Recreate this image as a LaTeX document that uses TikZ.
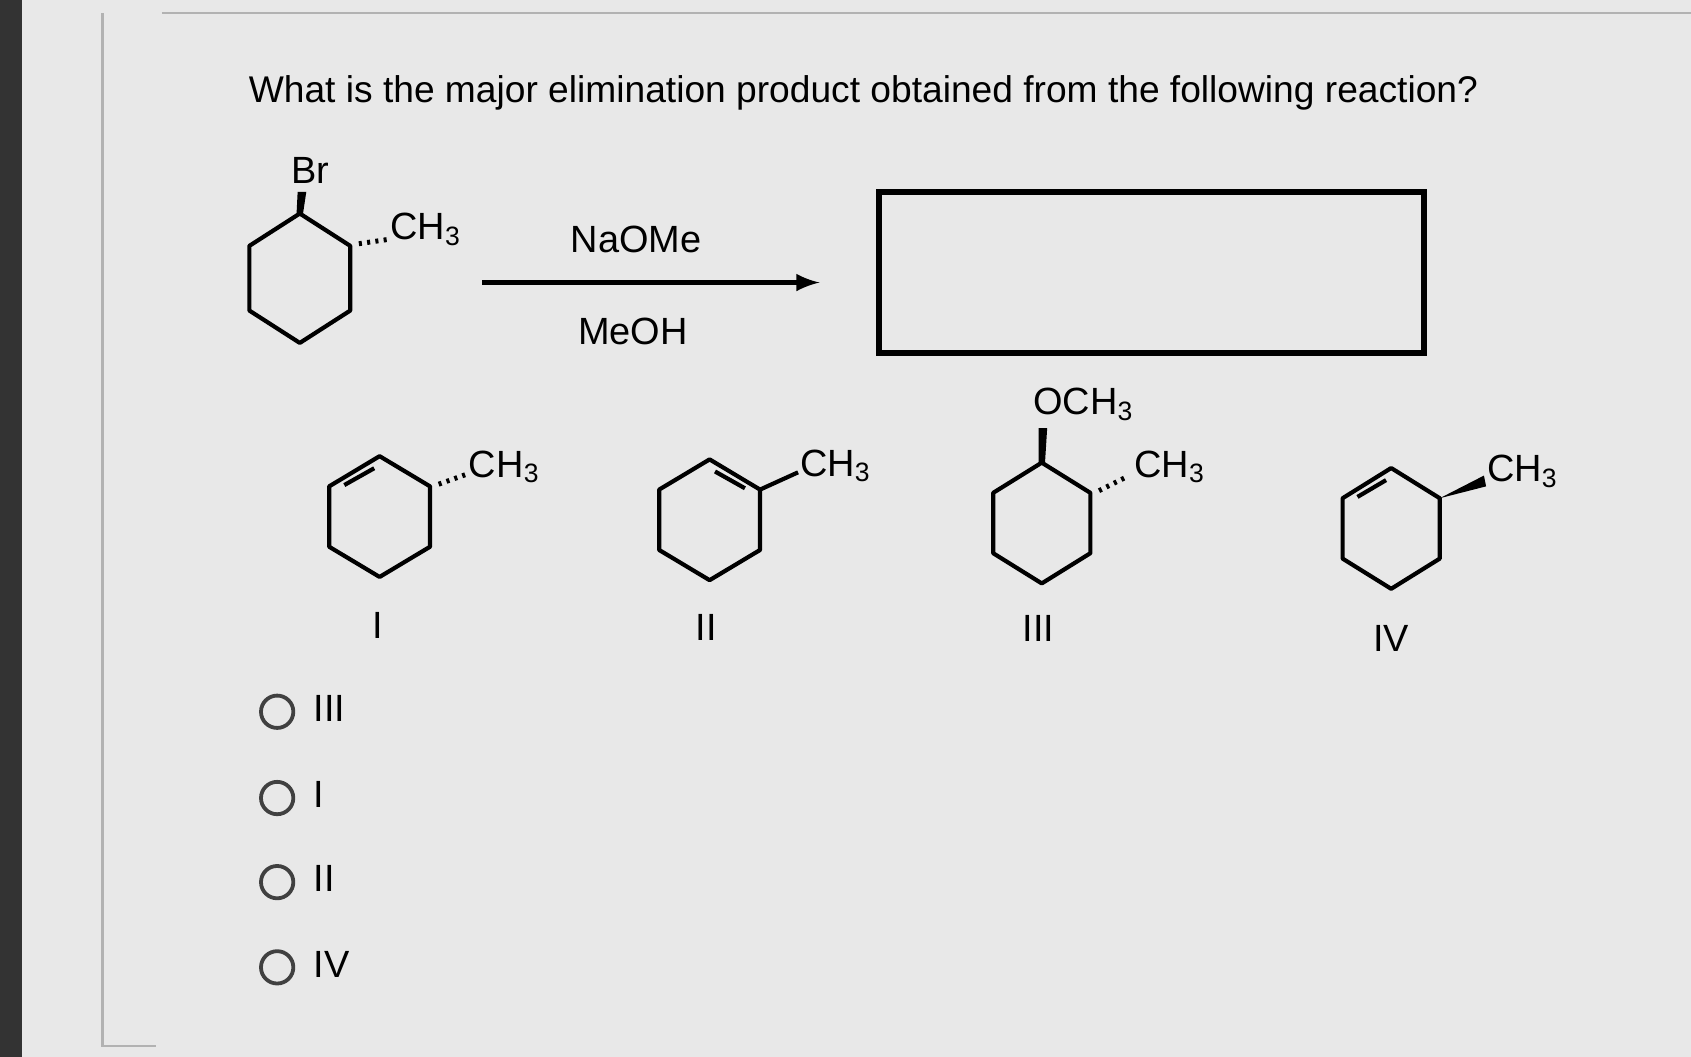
\documentclass[tikz,border=0pt]{standalone}
\usepackage{fontspec}
\setmainfont{Liberation Sans}
\usetikzlibrary{calc}
\begin{document}
\begin{tikzpicture}[x=0.01cm,y=-0.01cm,
  bond/.style={line width=1.1pt,line join=round},
  lbl/.style={font=\fontsize{10}{11}\selectfont,inner sep=0pt},
  hash/.style={line width=1.3pt,dash pattern=on 0.8pt off 1.4pt},
  wedge/.style={fill=black}]
\useasboundingbox (0,0) rectangle (1568,980);
\fill[gray!18] (0,0) rectangle (1568,980);
\fill[black!80] (0,0) rectangle (20,980);
\draw[gray!60,line width=0.6pt] (150,12) -- (1568,12);
\draw[gray!60,line width=0.6pt] (95,12) -- (95,970) -- (145,970);
\node[lbl,anchor=west,font=\fontsize{9.8}{11}\selectfont] (q) at (230,86) {What is the major elimination product obtained from the following reaction?};
% starting material
\foreach \i/\a in {1/90,2/30,3/-30,4/-90,5/-150,6/150}
  \coordinate (s\i) at ($(278,258)+(\a:54 and -60)$);
\draw[bond] (s1)--(s2)--(s3)--(s4)--(s5)--(s6)--cycle;
\node[lbl] (br) at (288,158) {Br};
\fill[wedge] ($(s1)+(-3,0)$) -- ($(s1)+(3,0)$) -- (284,178) -- (276,178) -- cycle;
\node[lbl] (sch) at (395,213) {CH\textsubscript{3}};
\draw[hash] ($(s2)+(8,-2)$) -- (360,222);
% arrow
\node[lbl] (na) at (590,222) {NaOMe};
\node[lbl] (me) at (587,307) {MeOH};
\coordinate (a1) at (447,262); \coordinate (a2) at (760,262);
\draw[line width=1.1pt,-latex] (a1) -- (a2);
\draw[line width=1.6pt] (815,178) rectangle (1320,327);
% I
\foreach \i/\a in {1/90,2/30,3/-30,4/-90,5/-150,6/150}
  \coordinate (p\i) at ($(352,479)+(\a:54 and -56)$);
\draw[bond] (p1)--(p2)--(p3)--(p4)--(p5)--(p6)--cycle;
\draw[bond] ($(p1)!0.15!(p6)+(2,7)$) -- ($(p6)!0.15!(p1)+(7,3)$);
\draw[hash] ($(p2)+(8,-2)$) -- (432,440);
\node[lbl] (c1) at (468,433) {CH\textsubscript{3}};
\node[lbl] (n1) at (350,580) {I};
% II
\foreach \i/\a in {1/90,2/30,3/-30,4/-90,5/-150,6/150}
  \coordinate (q\i) at ($(658,482)+(\a:54 and -56)$);
\draw[bond] (q1)--(q2)--(q3)--(q4)--(q5)--(q6)--cycle;
\draw[bond] ($(q1)!0.15!(q2)+(-2,7)$) -- ($(q2)!0.15!(q1)+(-7,3)$);
\draw[bond] (q2) -- (740,438);
\node[lbl] (c2) at (775,432) {CH\textsubscript{3}};
\node[lbl] (n2) at (655,582) {II};
% III
\foreach \i/\a in {1/90,2/30,3/-30,4/-90,5/-150,6/150}
  \coordinate (r\i) at ($(966,485)+(\a:52 and -56)$);
\draw[bond] (r1)--(r2)--(r3)--(r4)--(r5)--(r6)--cycle;
\fill[wedge] ($(r1)+(-3,0)$) -- ($(r1)+(3,0)$) -- (971,397) -- (963,397) -- cycle;
\node[lbl] (o3) at (1005,375) {OCH\textsubscript{3}};
\draw[hash] ($(r2)+(8,-2)$) -- (1045,442);
\node[lbl] (c3) at (1085,433) {CH\textsubscript{3}};
\node[lbl] (n3) at (963,583) {III};
% IV
\foreach \i/\a in {1/90,2/30,3/-30,4/-90,5/-150,6/150}
  \coordinate (t\i) at ($(1290,490)+(\a:52 and -56)$);
\draw[bond] (t1)--(t2)--(t3)--(t4)--(t5)--(t6)--cycle;
\draw[bond] ($(t1)!0.15!(t6)+(2,7)$) -- ($(t6)!0.15!(t1)+(7,3)$);
\fill[wedge] (t2) -- (1376,441) -- (1378,451) -- cycle;
\node[lbl] (c4) at (1412,437) {CH\textsubscript{3}};
\node[lbl] (n4) at (1290,592) {IV};
% options
\foreach \y/\t/\n in {660/III/o1,740/I/o2,818/II/o3,897/IV/o4}{
  \draw[line width=1pt,black!75] (257,\y) circle (15);
  \node[lbl,anchor=west] (\n) at (290,\y-3) {\t};}
\end{tikzpicture}
\end{document}
